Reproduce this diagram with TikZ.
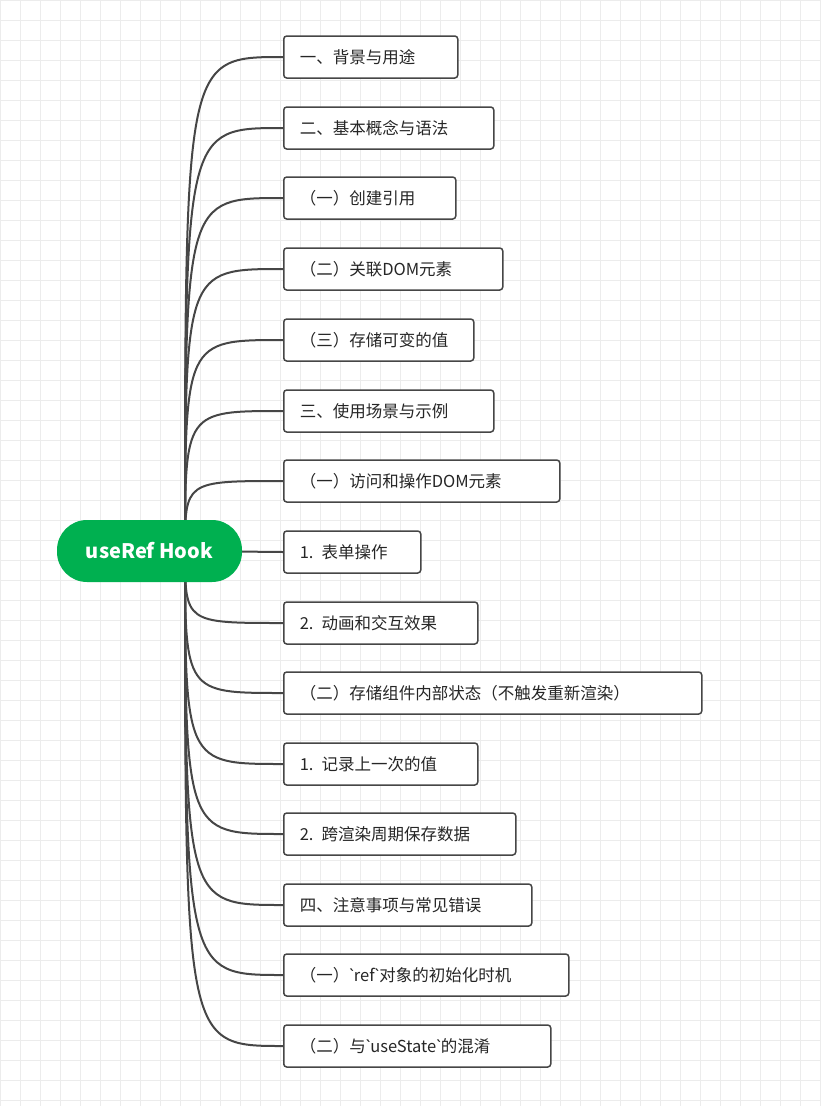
\documentclass[tikz,border=0pt]{standalone}
\usepackage{fontspec}
\setmainfont{Noto Sans CJK SC}
\newfontfamily\latf{Noto Sans}
\definecolor{hookgreen}{RGB}{0,176,80}
\definecolor{lnk}{RGB}{70,70,70}
\definecolor{gridc}{RGB}{236,236,236}
\newcommand{\bq}{{\latf\char96}}
\begin{document}
\begin{tikzpicture}[x=1pt,y=-1pt,
  item/.style={draw=lnk,line width=1.5pt,rounded corners=3pt,fill=white,anchor=west,minimum height=42pt,inner xsep=16pt,font=\fontsize{16.5}{19}\selectfont,text=black!85},
  conn/.style={draw=lnk,line width=2pt},
  rootst/.style={fill=hookgreen,rounded corners=30pt,minimum width=185pt,minimum height=62pt,text=white,font=\fontsize{20}{24}\selectfont\bfseries}]
\useasboundingbox (0,0) rectangle (820,1106);
\fill[white] (0,0) rectangle (820,1106);
\foreach \gx in {0,20,...,820} \draw[gridc,line width=0.8pt] (\gx,0) -- (\gx,1106);
\foreach \gy in {0,20,...,1100} \draw[gridc,line width=0.8pt] (0,\gy) -- (820,\gy);
\coordinate (s) at (185,551);
\foreach \i/\y/\w/\t in {
 1/57/174/{一、背景与用途},
 2/128/210/{二、基本概念与语法},
 3/198/172/{（一）创建引用},
 4/269/219/{（二）关联DOM元素},
 5/340/190/{（三）存储可变的值},
 6/411/210/{三、使用场景与示例},
 7/481/276/{（一）访问和操作DOM元素},
 8/552/137/{1. 表单操作},
 9/623/194/{2. 动画和交互效果},
 10/693/418/{（二）存储组件内部状态（不触发重新渲染）},
 11/764/194/{1. 记录上一次的值},
 12/834/232/{2. 跨渲染周期保存数据},
 13/905/248/{四、注意事项与常见错误},
 14/975/285/{（一）\bq ref\bq 对象的初始化时机},
 15/1046/267/{（二）与\bq useState\bq 的混淆}}{
  \node[item,minimum width=\w pt,align=left,text width=\w pt - 32pt] (n\i) at (283,\y) {\t};
}
\foreach \i in {1,...,15}{
  \ifnum\i=8
    \draw[conn] (s) -- (n8.west);
  \else
    \draw[conn] (s) .. controls (s |- n\i.west) and (s |- n\i.west) .. (n\i.west);
  \fi
}
\node[rootst] (root) at (149.5,551) {useRef Hook};
\end{tikzpicture}
\end{document}
